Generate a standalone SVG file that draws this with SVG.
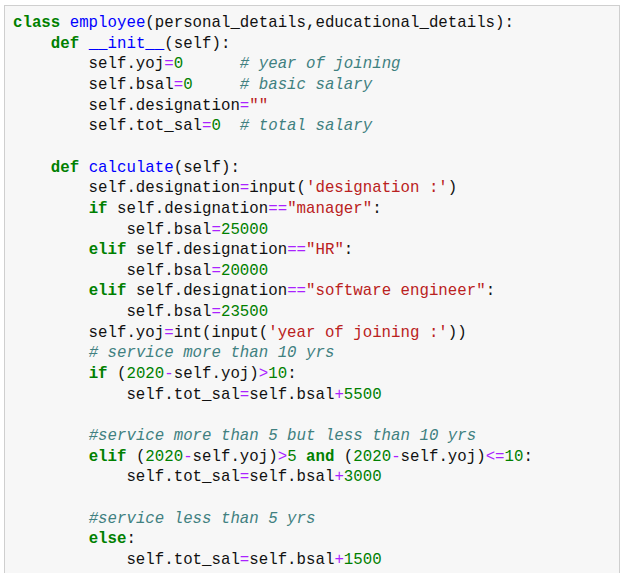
<svg xmlns="http://www.w3.org/2000/svg" width="625" height="573" viewBox="0 0 625 573">
<style>
text{font-family:"Liberation Mono","DejaVu Sans Mono",monospace;font-size:15.75px;fill:#111;white-space:pre}
.k{fill:#008000;font-weight:bold}
.n{fill:#008000}
.o{fill:#aa22ff}
.c{fill:#408080;font-style:italic}
.s{fill:#ba2121}
.f{fill:#0000ff}
</style>
<rect x="0" y="0" width="625" height="573" fill="#fff"/>
<rect x="4.5" y="5.5" width="615" height="580" fill="#f7f7f7" stroke="#cfcfcf"/>
<g id="code" xml:space="preserve">
<text x="13" y="27"><tspan class="k">class</tspan> <tspan class="f">employee</tspan>(personal_details,educational_details):</text>
<text x="13" y="47.6">    <tspan class="k">def</tspan> <tspan class="f">__init__</tspan>(self):</text>
<text x="13" y="68.3">        self.yoj<tspan class="o">=</tspan><tspan class="n">0</tspan>      <tspan class="c"># year of joining</tspan></text>
<text x="13" y="88.9">        self.bsal<tspan class="o">=</tspan><tspan class="n">0</tspan>     <tspan class="c"># basic salary</tspan></text>
<text x="13" y="109.6">        self.designation<tspan class="o">=</tspan><tspan class="s">""</tspan></text>
<text x="13" y="130.2">        self.tot_sal<tspan class="o">=</tspan><tspan class="n">0</tspan>  <tspan class="c"># total salary</tspan></text>
<text x="13" y="171.5">    <tspan class="k">def</tspan> <tspan class="f">calculate</tspan>(self):</text>
<text x="13" y="192.2">        self.designation<tspan class="o">=</tspan>input(<tspan class="s">'designation :'</tspan>)</text>
<text x="13" y="212.8">        <tspan class="k">if</tspan> self.designation<tspan class="o">==</tspan><tspan class="s">"manager"</tspan>:</text>
<text x="13" y="233.5">            self.bsal<tspan class="o">=</tspan><tspan class="n">25000</tspan></text>
<text x="13" y="254.1">        <tspan class="k">elif</tspan> self.designation<tspan class="o">==</tspan><tspan class="s">"HR"</tspan>:</text>
<text x="13" y="274.8">            self.bsal<tspan class="o">=</tspan><tspan class="n">20000</tspan></text>
<text x="13" y="295.4">        <tspan class="k">elif</tspan> self.designation<tspan class="o">==</tspan><tspan class="s">"software engineer"</tspan>:</text>
<text x="13" y="316.1">            self.bsal<tspan class="o">=</tspan><tspan class="n">23500</tspan></text>
<text x="13" y="336.7">        self.yoj<tspan class="o">=</tspan>int(input(<tspan class="s">'year of joining :'</tspan>))</text>
<text x="13" y="357.4">        <tspan class="c"># service more than 10 yrs</tspan></text>
<text x="13" y="378">        <tspan class="k">if</tspan> (<tspan class="n">2020</tspan><tspan class="o">-</tspan>self.yoj)<tspan class="o">&gt;</tspan><tspan class="n">10</tspan>:</text>
<text x="13" y="398.7">            self.tot_sal<tspan class="o">=</tspan>self.bsal<tspan class="o">+</tspan><tspan class="n">5500</tspan></text>
<text x="13" y="440">        <tspan class="c">#service more than 5 but less than 10 yrs</tspan></text>
<text x="13" y="460.6">        <tspan class="k">elif</tspan> (<tspan class="n">2020</tspan><tspan class="o">-</tspan>self.yoj)<tspan class="o">&gt;</tspan><tspan class="n">5</tspan> <tspan class="k">and</tspan> (<tspan class="n">2020</tspan><tspan class="o">-</tspan>self.yoj)<tspan class="o">&lt;=</tspan><tspan class="n">10</tspan>:</text>
<text x="13" y="481.3">            self.tot_sal<tspan class="o">=</tspan>self.bsal<tspan class="o">+</tspan><tspan class="n">3000</tspan></text>
<text x="13" y="522.6">        <tspan class="c">#service less than 5 yrs</tspan></text>
<text x="13" y="543.2">        <tspan class="k">else</tspan>:</text>
<text x="13" y="563.9">            self.tot_sal<tspan class="o">=</tspan>self.bsal<tspan class="o">+</tspan><tspan class="n">1500</tspan></text>
</g>
</svg>
